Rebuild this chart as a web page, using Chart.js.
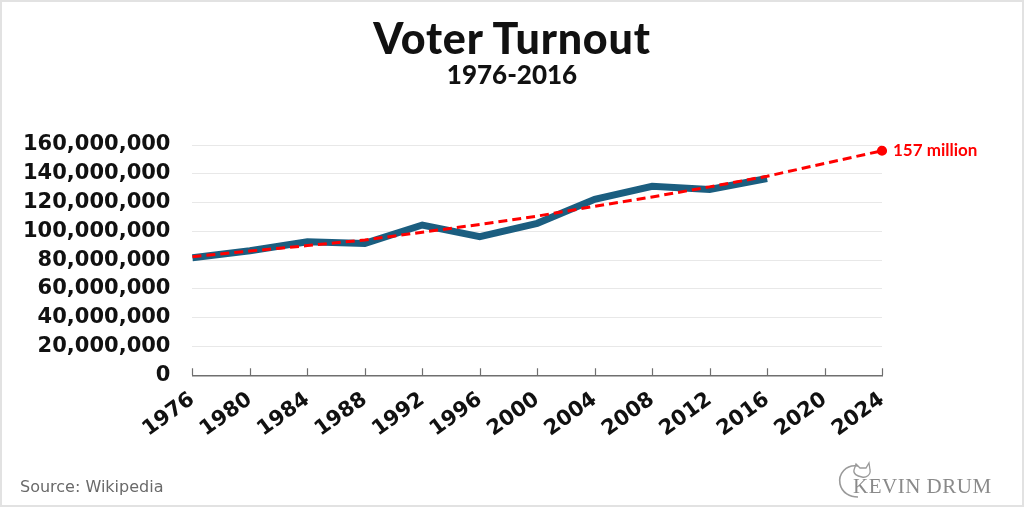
<!DOCTYPE html>
<html>
<head>
<meta charset="utf-8">
<script src="https://cdn.jsdelivr.net/npm/chart.js@4"></script>
<style>
  html, body { margin: 0; padding: 0; background: #fff; }
  #wrap { position: relative; width: 1024px; height: 507px; overflow: hidden; }
  #frame { position: absolute; left: 0; top: 0; width: 1024px; height: 507px; box-sizing: border-box; border: 2px solid #e2e2e2; pointer-events: none; }
  .head { position: absolute; left: 0; width: 1024px; text-align: center; font-family: Lato, sans-serif; font-weight: 900; color: #111; line-height: 1; }
  #title { top: 16px; font-size: 43px; letter-spacing: 0.8px; }
  #subtitle { top: 61px; font-size: 26px; }
  #source { position: absolute; left: 20px; top: 477px; font: 16px "DejaVu Sans", sans-serif; color: #6a6a6a; }
  #logo { position: absolute; left: 836px; top: 460px; width: 170px; height: 40px; }
  #logo span { position: absolute; left: 17px; top: 14px; font: 21px "Liberation Serif", serif; color: #8a8a8a; letter-spacing: 0.5px; }
</style>
</head>
<body>
<div id="wrap">
  <canvas id="chart" width="1024" height="507"></canvas>
  <div class="head" id="title">Voter Turnout</div>
  <div class="head" id="subtitle">1976-2016</div>
  <div id="source">Source: Wikipedia</div>
  <div id="logo">
    <svg width="40" height="40" style="position:absolute;left:0;top:0">
      <path d="M22 6 C10 4 2 14 4 24 C6 33 14 37 22 37" fill="none" stroke="#9a9a9a" stroke-width="1.6"/>
      <path d="M18 10 L20 4 L24 8 L30 8 L33 3 L34 10 C35 15 30 18 26 17 C21 16 17 14 18 10 Z" fill="none" stroke="#9a9a9a" stroke-width="1.3"/>
    </svg>
    <span>KEVIN DRUM</span>
  </div>
  <div id="frame"></div>
</div>
<script>
// Values
const years = ['1976', '1980', '1984', '1988', '1992', '1996', '2000', '2004', '2008', '2012', '2016', '2020', '2024'];
const turnout = [81600000, 86500000, 92700000, 91600000, 104400000, 96300000, 105600000, 122300000, 131300000, 129100000, 136700000, null, null];
const trend = [82400000, 86300000, 90100000, 94000000, 99400000, 104800000, 110600000, 117400000, 123900000, 130900000, 138300000, 147200000, 156000000];
const trendLabel = '157 million';
const yTicks = [0, 20000000, 40000000, 60000000, 80000000, 100000000, 120000000, 140000000, 160000000];

const tickFont = { family: 'DejaVu Sans', size: 21, weight: 'bold' };

// small upward tick marks on the x axis + end label for the trend
const extras = {
    id: 'extras',
    afterDraw(chart) {
        const ctx = chart.ctx;
        const x = chart.scales.x;
        const yb = chart.scales.y.getPixelForValue(0);
        ctx.save();
        ctx.strokeStyle = '#6f6f6f';
        ctx.lineWidth = 1.2;
        x.ticks.forEach((t, i) => {
            const px = Math.round(x.getPixelForTick(i)) + 0.5;
            ctx.beginPath();
            ctx.moveTo(px, yb);
            ctx.lineTo(px, yb - 7);
            ctx.stroke();
        });
        const meta = chart.getDatasetMeta(0);
        const last = meta.data[meta.data.length - 1];
        ctx.fillStyle = '#ff0000';
        ctx.font = 'bold 17px Lato';
        ctx.textBaseline = 'middle';
        ctx.fillText(trendLabel, last.x + 11, last.y);
        ctx.restore();
    }
};

new Chart(document.getElementById('chart').getContext('2d'), {
    type: 'line',
    data: {
        labels: years,
        datasets: [{
            data: trend,
            borderColor: '#ff0000',
            backgroundColor: '#ff0000',
            borderWidth: 3,
            borderDash: [9, 5],
            pointRadius: trend.map((v, i) => i === trend.length - 1 ? 3.6 : 0),
            tension: 0,
            order: 0
        }, {
            data: turnout,
            borderColor: '#1b5e80',
            borderWidth: 7,
            borderCapStyle: 'butt',
            pointRadius: 0,
            tension: 0,
            order: 1
        }]
    },
    options: {
        responsive: false,
        animation: false,
        layout: { padding: { left: 1, right: 142, top: 145, bottom: 61 } },
        plugins: {
            legend: { display: false },
            tooltip: { enabled: false }
        },
        scales: {
            x: {
                grid: { display: false },
                border: { display: true, color: '#6f6f6f', width: 1.5 },
                ticks: {
                    color: '#111',
                    font: tickFont,
                    minRotation: 36,
                    maxRotation: 36,
                    padding: 4
                }
            },
            y: {
                min: 0,
                max: 160000000,
                afterBuildTicks: (axis) => { axis.ticks = yTicks.map(v => ({ value: v })); },
                grid: { color: '#e8e8e8', lineWidth: 1, drawTicks: false },
                border: { display: false },
                ticks: {
                    color: '#111',
                    font: tickFont,
                    padding: 22,
                    callback: (v) => v.toLocaleString('en-US')
                }
            }
        }
    },
    plugins: [extras]
});
</script>
</body>
</html>
